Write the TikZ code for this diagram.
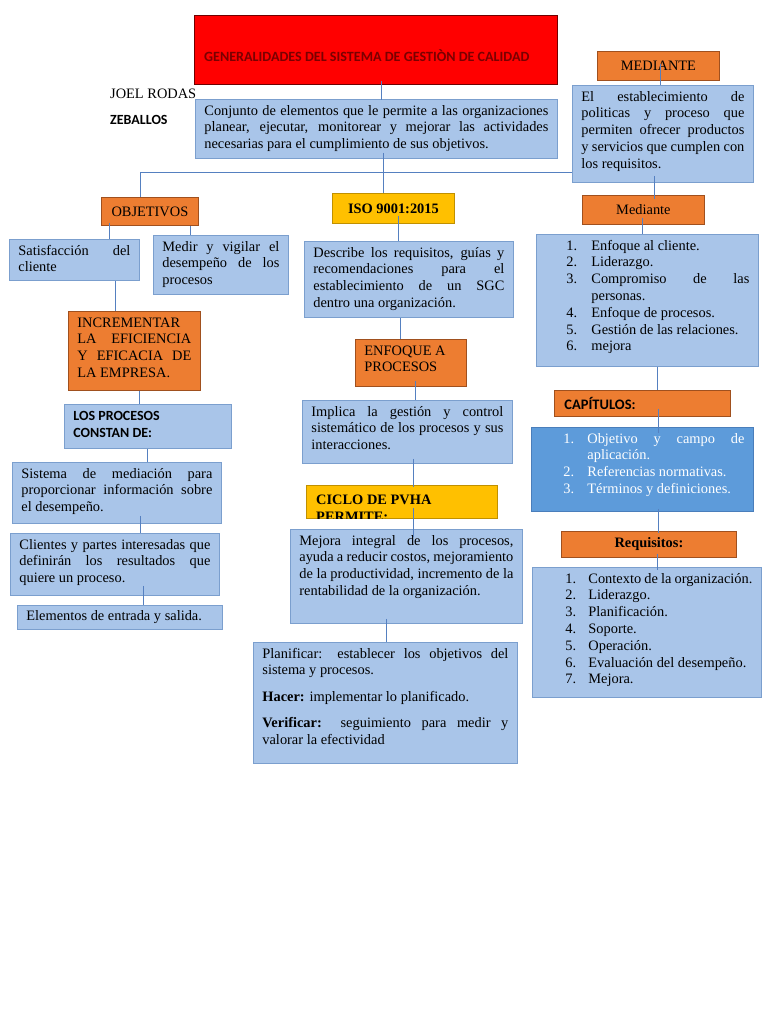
\documentclass[tikz,border=0pt]{standalone}
\usepackage{fontspec}
\setmainfont{Liberation Serif}
\newfontfamily\calib{Carlito}
\usetikzlibrary{calc}
\definecolor{lbfill}{HTML}{A9C5E9}
\definecolor{lbdraw}{HTML}{7B9FCE}
\definecolor{orfill}{HTML}{ED7D31}
\definecolor{ordraw}{HTML}{A0501E}
\definecolor{gofill}{HTML}{FFC000}
\definecolor{godraw}{HTML}{C09000}
\definecolor{rdfill}{HTML}{FF0000}
\definecolor{rddraw}{HTML}{700000}
\definecolor{dbfill}{HTML}{5D9BDA}
\definecolor{dbdraw}{HTML}{4A7EBB}
\definecolor{conncol}{HTML}{5580C0}
\definecolor{titletxt}{HTML}{7A0000}
\newcommand\bxtext[3]{\parbox[c][\dimexpr#2pt-8pt\relax][t]{\dimexpr#1pt-18pt\relax}{\strut #3}}
\newcommand\bxlist[3]{\parbox[c][\dimexpr#2pt-8pt\relax][t]{\dimexpr#1pt-18pt\relax}{#3}}
\newcommand\li[4]{\par\noindent\hangindent=#1pt\hangafter=1\makebox[#1pt][l]{\strut\hspace{#2pt}#3}#4}
\newcommand\vl[5]{\coordinate (vx) at (#1,0); \draw[conn, shorten <=-#4pt, shorten >=-#5pt] (vx |- #2.south) -- (vx |- #3.north);}
\tikzset{
 base/.style={anchor=north west, inner sep=0pt, line width=0.8pt, font=\fontsize{14.4}{16.8}\selectfont},
 lbox/.style={base, draw=lbdraw, fill=lbfill},
 obox/.style={base, draw=ordraw, fill=orfill},
 gbox/.style={base, draw=godraw, fill=gofill},
 dbox/.style={base, draw=dbdraw, fill=dbfill, text=white},
 rbx/.style={base, draw=rddraw, fill=rdfill},
 conn/.style={draw=conncol, line width=0.7pt},
 sz/.style 2 args={minimum width=#1pt, minimum height=#2pt},
}
\hbadness=10000 \hfuzz=5pt \vbadness=10000 \vfuzz=20pt
\begin{document}
\begin{tikzpicture}[x=1pt,y=-1pt]
\fill[white] (0,0) rectangle (768,1024);
\useasboundingbox (0,0) rectangle (768,1024);

% title
\node[rbx, sz={363}{69}] (title) at (194,15) {};
\node[anchor=west, inner sep=0pt, text=titletxt, font=\calib\bfseries\fontsize{14.1}{16}\selectfont] (ttxt) at (204,56) {GENERALIDADES DEL SISTEMA DE GESTIÒN DE CALIDAD};
\node[anchor=west, inner sep=0pt, font=\fontsize{14.4}{16.8}\selectfont] (joel) at (110,94) {JOEL RODAS};
\node[anchor=west, inner sep=0pt, font=\calib\bfseries\fontsize{14}{16}\selectfont] (zeb) at (110,120) {ZEBALLOS};

\node[lbox, sz={362}{59}] (desc) at (195,99) {\bxtext{362}{59}{Conjunto de elementos que le permite a las organizaciones \linebreak planear, ejecutar, monitorear y mejorar las actividades \linebreak necesarias para el cumplimiento de sus objetivos.}};

% right top
\node[obox, sz={122}{29}] (med1) at (597,51) {MEDIANTE};
\node[lbox, sz={181}{97}] (rbox) at (572,85) {\bxtext{181}{97}{El establecimiento de \linebreak politicas y proceso que \linebreak permiten ofrecer productos \linebreak y servicios que cumplen con \linebreak los requisitos.}};

% left column
\node[obox, sz={97}{28}] (obj) at (101,197) {OBJETIVOS};
\node[lbox, sz={130}{41}] (sat) at (9,239) {\bxtext{130}{41}{Satisfacción del \linebreak cliente}};
\node[lbox, sz={135}{59}] (medir) at (153,235) {\bxtext{135}{59}{Medir y vigilar el \linebreak desempeño de los \linebreak procesos}};
\node[obox, sz={132}{79}] (incr) at (68,311) {\bxtext{132}{79}{INCREMENTAR\\ LA EFICIENCIA \linebreak Y EFICACIA DE \linebreak LA EMPRESA.}};
\node[lbox, sz={167}{44}] (losp) at (64,404) {\bxtext{167}{44}{\calib\bfseries\fontsize{14}{17}\selectfont LOS PROCESOS\\CONSTAN DE:}};
\node[lbox, sz={209}{61}] (sist) at (12,462) {\bxtext{209}{61}{Sistema de mediación para \linebreak proporcionar información sobre \linebreak el desempeño.}};
\node[lbox, sz={209}{62}] (cli) at (10,533) {\bxtext{209}{62}{Clientes y partes interesadas que \linebreak definirán los resultados que \linebreak quiere un proceso.}};
\node[lbox, sz={205}{24}] (elem) at (17,605) {\parbox{187pt}{Elementos de entrada y salida.}};

% middle column
\node[gbox, sz={122}{30}] (iso) at (332,193) {\textbf{ISO 9001:2015}};
\node[lbox, sz={209}{76}] (descr) at (304,241) {\bxtext{209}{76}{Describe los requisitos, guías y \linebreak recomendaciones para el \linebreak establecimiento de un SGC \linebreak dentro una organización.}};
\node[obox, sz={111}{47}] (enf) at (355,339) {\bxtext{111}{47}{\raggedright ENFOQUE A\\PROCESOS}};
\node[lbox, sz={210}{63}] (impl) at (302,400) {\bxtext{210}{63}{Implica la gestión y control \linebreak sistemático de los procesos y sus \linebreak interacciones.}};
\node[gbox, sz={191}{33}] (ciclo) at (306,485) {};
\begin{scope}
\clip ([shift={(0.4pt,0.4pt)}]ciclo.south west) rectangle ([shift={(-0.4pt,-0.4pt)}]ciclo.north east);
\node[anchor=base west, inner sep=0pt, font=\fontsize{14.4}{17.5}\selectfont\bfseries] (ciclotxt) at (316,504) {\parbox[t]{170pt}{CICLO DE PVHA\\PERMITE:}};
\end{scope}
\node[lbox, sz={232}{94}] (mej) at (290,529) {\bxtext{232}{94}{Mejora integral de los procesos, \linebreak ayuda a reducir costos, mejoramiento \linebreak de la productividad, incremento de la \linebreak rentabilidad de la organización.}};
\node[lbox, sz={264}{121}] (plan) at (253,642) {\bxtext{264}{121}{\setlength{\parskip}{9.5pt}Planificar: establecer los objetivos del \linebreak sistema y procesos.\par
\textbf{Hacer:} implementar lo planificado.\par
\textbf{Verificar:} seguimiento para medir y \linebreak valorar la efectividad}};

% right column
\node[obox, sz={122}{29}] (med2) at (582,195) {Mediante};
\node[lbox, sz={222}{132}] (enfl) at (536,234) {\bxlist{222}{132}{%
\li{46}{21}{1.}{Enfoque al cliente.}
\li{46}{21}{2.}{Liderazgo.}
\li{46}{21}{3.}{Compromiso de las \linebreak personas.}
\li{46}{21}{4.}{Enfoque de procesos.}
\li{46}{21}{5.}{Gestión de las relaciones.}
\li{46}{21}{6.}{mejora}}};
\node[obox, sz={176}{26}] (cap) at (554,390) {\parbox{156pt}{\calib\bfseries\fontsize{14.5}{16}\selectfont CAPÍTULOS:}};
\node[dbox, sz={222}{84}] (capl) at (531,427) {\bxlist{222}{84}{%
\li{47}{23}{1.}{Objetivo y campo de \linebreak aplicación.}
\li{47}{23}{2.}{Referencias normativas.}
\li{47}{23}{3.}{Términos y definiciones.}}};
\node[obox, sz={175}{26}] (req) at (561,531) {\textbf{Requisitos:}};
\node[lbox, sz={229}{130}] (reql) at (532,567) {\bxlist{229}{130}{%
\li{47}{24}{1.}{Contexto de la organización.}
\li{47}{24}{2.}{Liderazgo.}
\li{47}{24}{3.}{Planificación.}
\li{47}{24}{4.}{Soporte.}
\li{47}{24}{5.}{Operación.}
\li{47}{24}{6.}{Evaluación del desempeño.}
\li{47}{24}{7.}{Mejora.}}};

% connectors
\vl{381}{title}{desc}{4}{1}
\vl{383}{desc}{iso}{6}{0}
\coordinate (hj) at (140,172);
\draw[conn] (hj |- obj.north) -- (hj) -- (rbox.west |- hj);
\vl{109}{obj}{sat}{3}{0}
\vl{190}{obj}{medir}{0}{0}
\vl{115}{sat}{incr}{0}{0}
\vl{139}{incr}{losp}{0}{0}
\vl{147}{losp}{sist}{0}{0}
\vl{140}{sist}{cli}{8}{0}
\vl{143}{cli}{elem}{10}{0}
\vl{398}{iso}{descr}{8}{0}
\vl{400}{descr}{enf}{0}{0}
\vl{415}{enf}{impl}{6}{0}
\vl{413}{impl}{ciclo}{5}{2}
\vl{413}{ciclo}{mej}{11}{8}
\vl{386}{mej}{plan}{5}{0}
\vl{660}{med1}{rbox}{17}{0}
\vl{654}{rbox}{med2}{7}{4}
\vl{642}{med2}{enfl}{7}{0}
\vl{657}{enfl}{cap}{0}{0}
\vl{658}{cap}{capl}{8}{6}
\vl{658}{capl}{req}{3}{2}
\vl{657}{req}{reql}{4}{3}
\end{tikzpicture}
\end{document}
